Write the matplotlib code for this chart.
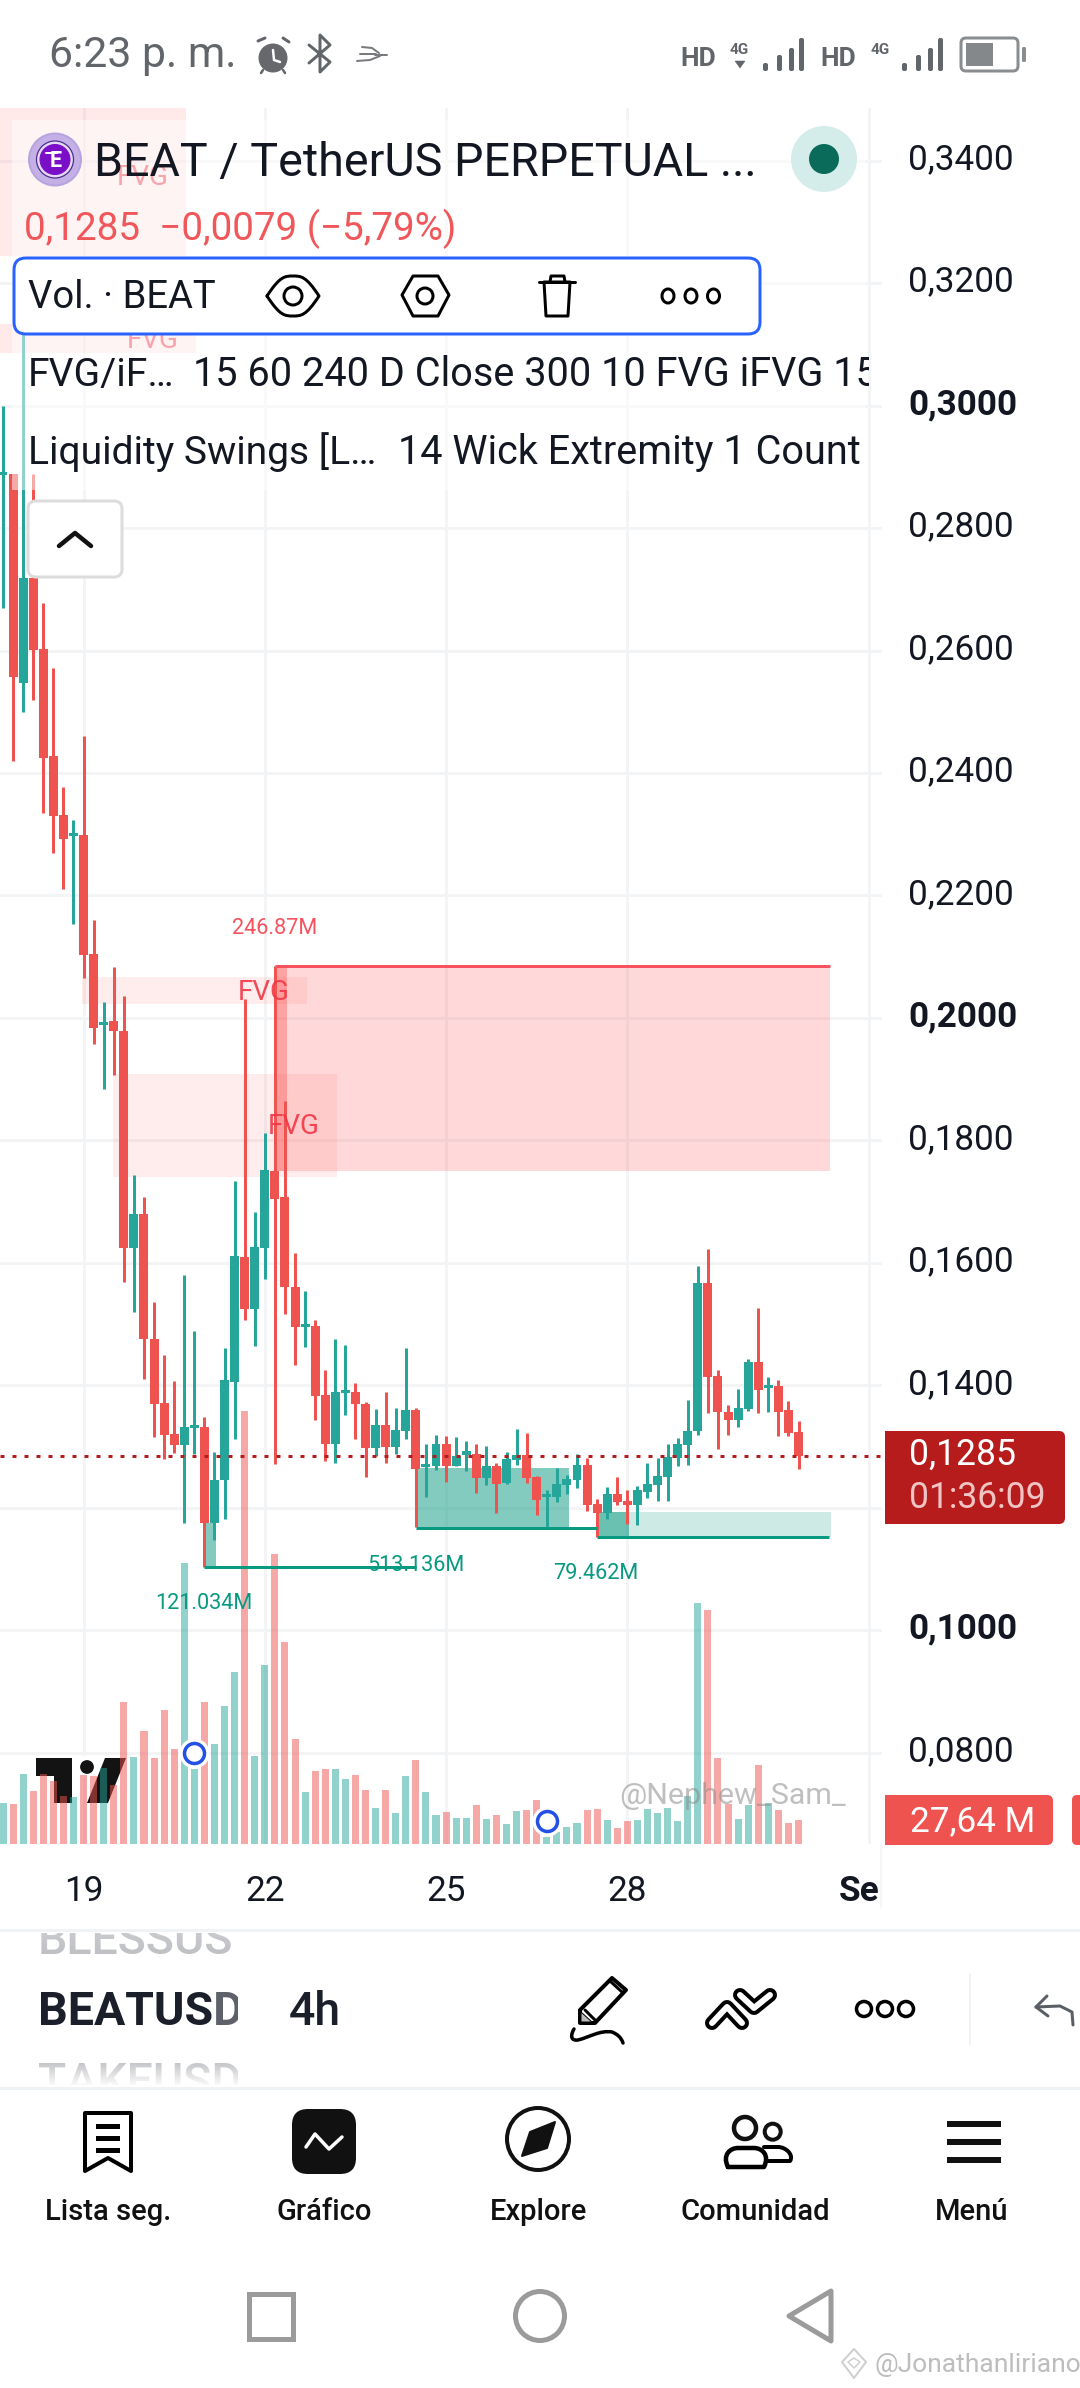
import numpy as np
import matplotlib
matplotlib.use('Agg')
import matplotlib.pyplot as plt
from matplotlib.patches import Rectangle, Circle, Ellipse, Polygon, FancyBboxPatch, PathPatch
from matplotlib.path import Path
from matplotlib.transforms import Affine2D

plt.rcParams['font.family'] = ['Roboto', 'DejaVu Sans']

# candles, 4h bars
opens = [.2887, .2888, .2547, .2718, .2602, .2428, .2331, .2297, .2299, .2104,
         .1988, .1995, .1979, .1625, .1680, .1476, .1371, .1321, .1303, .1331,
         .1332, .1176, .1245, .1406, .1610, .1524, .1625, .1750, .1708, .1561,
         .1495, .1497, .1385, .1305, .1388, .1389, .1370, .1297, .1335, .1299,
         .1326, .1360, .1266, .1268, .1304, .1268, .1287, .1288, .1249, .1268,
         .1241, .1278, .1286, .1250, .1218, .1218, .1237, .1246, .1270, .1206,
         .1192, .1223, .1211, .1205, .1226, .1237, .1250, .1282, .1303, .1326,
         .1567, .1415, .1357, .1344, .1362, .1438, .1395, .1399, .1360, .1324]
highs = [.2999, .2888, .3118, .2888, .2678, .2571, .2377, .2323, .2460, .2160,
         .2026, .2084, .2036, .1744, .1708, .1536, .1450, .1407, .1580, .1489,
         .1349, .1291, .1461, .1734, .2031, .1683, .1812, .2085, .1864, .1616,
         .1554, .1507, .1425, .1476, .1466, .1404, .1373, .1362, .1389, .1363,
         .1461, .1363, .1304, .1319, .1317, .1316, .1309, .1304, .1301, .1273,
         .1291, .1329, .1322, .1252, .1229, .1265, .1254, .1288, .1282, .1215,
         .1234, .1250, .1229, .1236, .1273, .1282, .1304, .1314, .1376, .1595,
         .1623, .1425, .1368, .1394, .1443, .1526, .1414, .1409, .1375, .1342]
lows = [.2670, .2420, .2500, .2520, .2335, .2270, .2211, .2153, .2065, .1958,
        .1884, .1907, .1569, .1519, .1411, .1315, .1280, .1289, .1176, .1288,
        .1104, .1148, .1181, .1312, .1507, .1465, .1573, .1271, .1516, .1434,
        .1463, .1343, .1276, .1273, .1352, .1313, .1251, .1284, .1273, .1288,
        .1312, .1168, .1217, .1261, .1242, .1268, .1260, .1224, .1237, .1192,
        .1239, .1270, .1241, .1189, .1168, .1210, .1223, .1232, .1195, .1153,
        .1182, .1205, .1174, .1172, .1216, .1211, .1211, .1268, .1270, .1319,
        .1355, .1296, .1319, .1332, .1358, .1355, .1357, .1317, .1317, .1264]
closes = [.2889, .2557, .2718, .2601, .2425, .2329, .2293, .2299, .2102, .1984,
          .1990, .1978, .1624, .1680, .1475, .1370, .1319, .1303, .1332, .1333,
          .1176, .1246, .1409, .1611, .1524, .1626, .1752, .1705, .1560, .1496,
          .1497, .1383, .1305, .1389, .1390, .1370, .1297, .1335, .1299, .1327,
          .1360, .1264, .1268, .1304, .1268, .1285, .1289, .1249, .1268, .1239,
          .1280, .1286, .1249, .1213, .1220, .1239, .1247, .1270, .1205, .1192,
          .1223, .1210, .1205, .1229, .1239, .1252, .1283, .1304, .1326, .1567,
          .1414, .1357, .1344, .1363, .1438, .1393, .1397, .1357, .1322, .1285]
# volume in millions
volumes = [47.2, 46.1, 80.6, 61.1, 80.6, 72.6, 55.3, 54.1, 79.5, 78.3,
           87.6, 68.0, 163.6, 100.2, 130.2, 99.1, 154.4, 109.4, 323.7, 86.4,
           163.6, 115.2, 159.0, 198.1, 498.8, 101.4, 206.2, 334.1, 232.7, 121.0,
           59.9, 84.1, 86.4, 86.4, 74.9, 79.5, 62.2, 41.5, 62.2, 35.7,
           78.3, 96.8, 59.9, 33.4, 36.9, 30.0, 30.0, 44.9, 28.8, 33.4,
           23.0, 38.0, 39.2, 50.7, 8.4, 14.0, 19.6, 24.2, 39.2, 40.3,
           27.6, 18.4, 26.5, 27.6, 40.3, 35.7, 41.5, 26.5, 55.3, 277.6,
           269.6, 99.1, 46.1, 28.8, 44.9, 91.0, 47.2, 39.2, 24.2, 27.64]

price_ticks = [.34, .32, .30, .28, .26, .24, .22, .20, .18, .16, .14, .12, .10, .08]
bold_prices = [.30, .20, .10]
day_bars = [8, 26, 44, 62, 86]
day_labels = ['19', '22', '25', '28', 'Sep']
last_price = 0.1285

# zones: first bar, last bar, top, bottom, opacity
fvg_zones = [(27.0, 82.1, .2085, .1750, .22), (27.0, 28.2, .2085, .1750, .4),
             (7.85, 30.2, .2067, .2023, .11), (10.9, 33.2, .1909, .1740, .11),
             (-0.3, 18.2, .3486, .3244, .12), (-0.3, 19.2, .3133, .3086, .12)]
swing_zones = [(20.1, 21.2, .1176, .1104, .5), (41.1, 56.2, .1265, .1167, .5),
               (59.0, 82.2, .1193, .1153, .2), (59.0, 62.2, .1193, .1153, .5)]
swing_lines = [(20.0, 41.0, .1104), (41.0, 59.0, .1167), (59.0, 82.0, .1153)]
fvg_lines = [(27.0, 82.1, .2085)]
fvg_labels = [(25.9, .2042), (28.9, .1823), (13.9, .3373), (14.9, .3107)]
vol_labels = [('246.87M', 27.0, .2146, '#f7525f'), ('121.034M', 19.9, .1043, '#089981'),
              ('513.136M', 41.0, .1105, '#089981'), ('79.462M', 58.9, .1092, '#089981')]
marker_bars = [19, 54]
marker_prices = [.0799, .0688]

GREEN, RED = '#26a69a', '#ef5350'
TXT = '#131722'
W, H = 1080, 2388
LW = 72 / 100  # one pixel in points

fig = plt.figure(figsize=(W / 100, H / 100), dpi=100, facecolor='white')
left, right, top, bottom = 0, 882, 108, 1844
rect = [left / W, 1 - bottom / H, (right - left) / W, (bottom - top) / H]

# bottom axes: grid and tick labels, then volume, then candles
ax = fig.add_axes(rect)
vol_ax = ax.twinx()
price_ax = ax.twinx()
x0 = (left - 3) / 10.07
x1 = (right - 3) / 10.07
for a in (ax, vol_ax, price_ax):
    a.set_xlim(x0, x1)
    for s in a.spines.values():
        s.set_visible(False)
ax.set_ylim(.0651, .3486)
price_ax.set_ylim(.0651, .3486)
vol_ax.set_ylim(0, 2000)
vol_ax.set_yticks([])
price_ax.set_yticks([])

ax.set_yticks(price_ticks)
ax.set_yticklabels([f'{p:.4f}'.replace('.', ',') for p in price_ticks], fontsize=25.3, color=TXT)
ax.yaxis.tick_right()
ax.set_xticks(day_bars)
ax.set_xticklabels(day_labels, fontsize=25.3, color=TXT)
ax.tick_params(axis='both', length=0)
ax.tick_params(axis='y', pad=19)
ax.tick_params(axis='x', pad=22)
for lab, p in zip(ax.get_yticklabels(), price_ticks):
    lab.set_transform(lab.get_transform() + Affine2D().translate(0, 4.5))
    if p in bold_prices:
        lab.set_fontweight('bold')
ax.get_xticklabels()[-1].set_fontweight('bold')
ax.grid(True, color='#f3f4f6', lw=3 * LW)
ax.set_axisbelow(True)

idx = np.arange(len(opens))
o, h, l, c = map(np.array, (opens, highs, lows, closes))
colors = [GREEN if b >= a else RED for a, b in zip(o, c)]

vol_ax.bar(idx, volumes, width=0.7, color=colors, alpha=0.5, lw=0)

for z in fvg_zones:
    price_ax.add_patch(Rectangle((z[0], z[3]), z[1] - z[0], z[2] - z[3], color='#ff5252', alpha=z[4], lw=0, zorder=1))
for z in swing_zones:
    price_ax.add_patch(Rectangle((z[0], z[3]), z[1] - z[0], z[2] - z[3], color='#089981', alpha=z[4], lw=0, zorder=1))

body = np.maximum(np.abs(c - o), 0.0005)
price_ax.vlines(idx, l, h, colors=colors, lw=3 * LW, zorder=3)
price_ax.bar(idx, body, bottom=np.minimum(o, c), width=0.89, color=colors, lw=0, zorder=3)

for a, b, p in fvg_lines:
    price_ax.plot([a, b], [p, p], color='#f7525f', lw=3 * LW, zorder=4, solid_capstyle='butt')
for a, b, p in swing_lines:
    price_ax.plot([a, b], [p, p], color='#089981', lw=3 * LW, zorder=4, solid_capstyle='butt')

price_ax.axhline(last_price, color='#b71c1c', lw=3 * LW, ls=(0, (1.33, 2.67)), zorder=5)

for x, p in fvg_labels:
    price_ax.text(x, p, 'FVG', color='#f23645', fontsize=20, ha='center', va='center', alpha=0.9, zorder=6)
for s, x, p, col in vol_labels:
    price_ax.text(x, p, s, color=col, fontsize=15.6, ha='center', va='center', zorder=6)

price_ax.plot(marker_bars, marker_prices, ls='', marker='o', ms=22 * LW, mfc='white', mec='white', mew=8 * LW, zorder=7)
price_ax.plot(marker_bars, marker_prices, ls='', marker='o', ms=20 * LW, mfc='white', mec='#2350e6', mew=3.5 * LW, zorder=8)

# chrome in pixel coordinates
ui = fig.add_axes([0, 0, 1, 1], zorder=10)
ui.set_xlim(0, W)
ui.set_ylim(H, 0)
ui.axis('off')
ui.patch.set_alpha(0)


def text(x, y, s, size, color=TXT, weight='normal', ha='left', clip=None, alpha=None, z=20):
    t = ui.text(x, y, s, fontsize=size, color=color, fontweight=weight, ha=ha, va='baseline', alpha=alpha, zorder=z)
    if clip:
        t.set_clip_on(True)
        t.set_clip_path(Rectangle((clip[0], clip[1]), clip[2] - clip[0], clip[3] - clip[1], transform=ui.transData))
    return t


def line(pts, color='black', lw=3, z=20):
    xs, ys = zip(*pts)
    ui.plot(xs, ys, color=color, lw=lw * LW, zorder=z, solid_capstyle='round', solid_joinstyle='round')


def rect_px(x0_, y0_, x1_, y1_, color, z=15):
    ui.add_patch(Rectangle((x0_, y0_), x1_ - x0_, y1_ - y0_, facecolor=color, lw=0, zorder=z))


def rounded(x0_, y0_, x1_, y1_, r, fc='white', ec='none', lw=0, z=15):
    ui.add_patch(FancyBboxPatch((x0_ + r, y0_ + r), x1_ - x0_ - 2 * r, y1_ - y0_ - 2 * r, boxstyle=f'round,pad={r},rounding_size={r}',
                                fc=fc, ec=ec, lw=lw * LW, zorder=z))


def ring(x, y, r, color='black', lw=3, z=20, fc='none'):
    ui.add_patch(Circle((x, y), r, fc=fc, ec=color, lw=lw * LW, zorder=z))


def poly(pts, fc='none', ec='black', lw=3, z=20):
    ui.add_patch(Polygon(pts, closed=True, fc=fc, ec=ec, lw=lw * LW, zorder=z, joinstyle='round'))


def curve(verts, fc='none', ec='black', lw=3, z=20):
    # first point is a move, the rest come in threes as cubic segments
    codes = [Path.MOVETO] + [Path.CURVE4] * (len(verts) - 1)
    ui.add_patch(PathPatch(Path(verts, codes), fc=fc, ec=ec, lw=lw * LW, zorder=z, capstyle='round', joinstyle='round'))


def fade(x0_, y0_, x1_, y1_, a0, a1, z=25):
    img = np.ones((32, 1, 4))
    img[:, 0, 3] = np.linspace(a0, a1, 32)
    ui.imshow(img, extent=(x0_, x1_, y1_, y0_), aspect='auto', zorder=z, interpolation='bilinear')
    ui.set_xlim(0, W)
    ui.set_ylim(H, 0)


# TradingView logo sits under the volume bars
logo_col = '#131313'
tr = ui.transData
for pts in ([(36, 1758), (72, 1758), (72, 1803), (54, 1803), (54, 1776), (36, 1776)],
            [(105, 1758), (126, 1758), (108, 1803), (87, 1803)]):
    ax.add_patch(Polygon(pts, closed=True, fc=logo_col, ec='none', transform=tr, zorder=3, clip_on=False))
ax.add_patch(Circle((87, 1767), 9, fc=logo_col, ec='white', lw=3, transform=tr, zorder=3, clip_on=False))

# translucent sheet behind the legend
price_ax.add_patch(Rectangle((12, 120), 853, 370, transform=tr, fc='white', alpha=0.5, lw=0, zorder=9))

# status bar
GREY = '#62666b'
text(49, 67, '6:23 p. m.', 30.8, GREY)
ring(273, 58, 14, '#66686c', 1, fc='#66686c')
line([(273, 50), (274, 60), (280, 62)], 'white', 2.5)
line([(258, 41), (265, 38)], GREY, 3)
line([(283, 38), (289, 42)], GREY, 3)
line([(263, 70), (261, 73)], GREY, 2.5)
line([(283, 70), (285, 73)], GREY, 2.5)
line([(309, 45), (330, 62), (320, 72), (320, 35), (330, 45), (309, 63)], GREY, 3)
line([(362, 47), (372, 48), (379, 53)], '#777a7e', 2)
line([(360, 54), (376, 54)], '#777a7e', 2)
line([(357, 61), (370, 60), (380, 56)], '#777a7e', 2)
line([(375, 55), (387, 55)], '#777a7e', 2)
text(680, 66, 'HD', 19, GREY, 'bold')
text(820, 66, 'HD', 19, GREY, 'bold')
text(730, 54, '4G', 11, GREY, 'bold')
text(871, 54, '4G', 11, GREY, 'bold')
poly([(735, 61), (745, 61), (740, 68)], GREY, GREY, 0.5)
for bars_x in ((763, 777, 789, 799), (902, 916, 928, 938)):
    for bx, by in zip(bars_x, (63, 55, 48, 38)):
        rounded(bx, by, bx + 5, 71, 2, GREY)
rounded(961, 38, 1018, 71, 5, 'none', '#8a8d90', 3)
rect_px(966, 43, 993, 66, '#85888b', 20)
rounded(1022, 47, 1026, 62, 1.5, '#8a8d90')

# legend
ring(55, 159.5, 26, '#b7a3de', 2, fc='#c4b0e6')
ring(55, 159.5, 18.5, '#4b2a8c', 1.2, fc='#e2daf3')
ring(55, 159.5, 15, '#7b0fc8', 1, fc='#7b0fc8')
text(56, 167, 'E', 15.5, 'white', 'bold', ha='center')
line([(46, 153), (57, 153)], 'white', 2)
text(94, 176, 'BEAT / TetherUS PERPETUAL ...', 33.6)
ui.add_patch(Circle((824, 159), 33, fc='#d5edea', ec='none', zorder=18))
ui.add_patch(Circle((824, 159), 15, fc='#0b6b5a', ec='none', zorder=19))
text(24, 240, '0,1285  \u22120,0079 (\u22125,79%)', 27.8, '#f0575a')
rounded(14, 258, 760, 334, 12, 'white', '#2962ff', 3)
text(28, 308, 'Vol. \u00b7 BEAT', 27.5)
curve([(267, 296), (280, 276), (285, 276), (293, 276), (301, 276), (306, 276), (319, 296),
       (306, 316), (301, 316), (293, 316), (285, 316), (280, 316), (267, 296)])
ring(293, 296, 9, 'black', 3)
poly([(402, 295), (413, 276), (438, 276), (449, 295), (438, 316), (413, 316)])
ring(425, 296, 8, 'black', 3)
line([(539, 282), (575, 282)])
poly([(544, 282), (570, 282), (568, 316), (546, 316)])
line([(550, 282), (551, 276), (564, 276), (565, 282)])
for dx in (668, 691, 713.5):
    ui.add_patch(Ellipse((dx, 296), 12, 14, fc='none', ec='black', lw=3 * LW, zorder=20))
text(28, 386, 'FVG/iF\u2026', 28.1)
text(193, 386, '15 60 240 D Close 300 10 FVG iFVG 15', 28.5, clip=(0, 340, 869, 400))
text(28, 464, 'Liquidity Swings [L\u2026', 28.1)
text(398, 464, '14 Wick Extremity 1 Count', 28.5)
rounded(28, 501, 122, 577, 8, 'white', '#dcdcdc', 3)
line([(59, 546), (75, 533), (91, 546)], '#111111', 4.5)

# price tags
rounded(885, 1431, 1065, 1524, 6, '#b71c1c')
rect_px(885, 1431, 900, 1524, '#b71c1c', 16)
text(909, 1465, '0,1285', 25.6, 'white')
text(909, 1508, '01:36:09', 25.6, '#f0c4c4')
rounded(885, 1795, 1053, 1845, 6, RED)
rect_px(885, 1795, 900, 1845, RED, 16)
text(910, 1831, '27,64 M', 25.3, 'white')
rounded(1072, 1795, 1090, 1845, 5, RED)
text(619, 1804, '@Nephew_Sam_', 21.9, '#8b8b8b', alpha=0.55)

# hide end of the Sep label, separators
rect_px(879, 1846, 1080, 1925, 'white', 14)
line([(881, 1846), (881, 1908)], '#f3f4f6', 1.5)
rect_px(0, 1929, W, 1932, '#f0f3f5')
rect_px(0, 2087, W, 2090, '#f0f3f5')
rect_px(969, 1974, 971, 2045, '#f0f3f5')

# symbol row
text(38, 1954, 'BLESSUS', 33.5, '#2a2e39', 'medium', clip=(0, 1933, 238, 2000))
fade(30, 1933, 245, 1956, 0.75, 0.7)
text(38, 2025, 'BEATUSD', 33.5, '#1b1f2a', 'bold', clip=(0, 1975, 238, 2040))
fade(215, 1985, 240, 2030, 0.3, 0.3)
text(289, 2025, '4h', 33.5, '#1b1f2a', 'medium')
text(38, 2096, 'TAKEUSD', 33.5, '#2a2e39', 'medium', clip=(0, 2050, 238, 2085))
fade(30, 2060, 245, 2087, 0.7, 1)
# pencil and shapes
poly([(580, 2010), (612, 1978), (626, 1990), (595, 2023), (580, 2023)], lw=4)
poly([(581, 2012), (592, 2022), (581, 2022)], '#bbbbbb', 'black', 1)
line([(585, 2010), (595, 2020)], lw=3)
line([(610, 1981), (622, 1992)], lw=3)
curve([(574, 2029), (570, 2036), (571, 2041), (578, 2040), (590, 2037), (600, 2030), (612, 2032),
       (617, 2034), (621, 2037), (623, 2043)], lw=3.5)
for pts in ([(712, 2023), (727, 2007), (742, 2023)], [(740, 1995), (754, 2008), (770, 1995)]):
    line(pts, 'black', 14)
    line(pts, 'white', 6)
for dx in (864, 885, 906):
    ui.add_patch(Ellipse((dx, 2009), 15, 15, fc='none', ec='black', lw=3.5 * LW, zorder=20))
line([(1047, 1996), (1036, 2007), (1048, 2016)], '#5a5f66', 3)
line([(1036, 2007), (1060, 2006), (1072, 2012), (1073, 2025)], '#5a5f66', 3)

# bottom nav
poly([(85, 2113), (131, 2113), (131, 2171), (108, 2158), (85, 2171)], lw=4)
for ly in (2126, 2138, 2150):
    rect_px(96, ly - 2.5, 120, ly + 2.5, 'black', 20)
rounded(292, 2109, 356, 2174, 16, '#111111')
line([(306, 2147), (315, 2134), (329, 2149), (342, 2137)], 'white', 3.5)
ring(538, 2139, 31, '#111111', 4)
poly([(555, 2122), (547, 2148), (522, 2156), (530, 2132)], '#111111', '#111111', 2)
ring(745, 2128, 11, '#111111', 4.5)
ring(772.7, 2131.7, 8, '#111111', 4)
curve([(764, 2147), (772, 2147), (775, 2147), (778, 2147), (786, 2147), (794, 2155), (790, 2161),
       (783, 2161), (775, 2161), (768, 2161)], lw=4)
curve([(728, 2167), (722, 2155), (730, 2148), (738, 2148), (744, 2148), (748, 2148), (754, 2148),
       (762, 2148), (770, 2155), (764, 2167), (752, 2167), (740, 2167), (728, 2167)], lw=4.5, fc='white', z=21)
for ly in (2124, 2142, 2160):
    rect_px(947, ly - 3, 1001, ly + 3, '#111111', 20)
for x_, s in zip((108, 324, 539, 755, 972), ('Lista seg.', 'Gr\u00e1fico', 'Explore', 'Comunidad', 'Men\u00fa')):
    text(x_, 2220, s, 21, '#111111', 'medium', ha='center')

# android nav
NAV = '#9b9b9b'
ui.add_patch(Rectangle((249, 2294), 44, 45, fc='none', ec=NAV, lw=5 * LW, zorder=20))
ring(540, 2316, 24.5, NAV, 5)
poly([(831, 2291), (789, 2316), (831, 2341)], 'none', NAV, 5)
text(875, 2372, '@Jonathanliriano', 19, '#bdbdbd')
poly([(854, 2349), (866, 2362), (854, 2378), (842, 2362)], 'none', '#cfcfcf', 2)
poly([(854, 2358), (860, 2362), (854, 2368), (848, 2362)], 'none', '#cfcfcf', 1.5)

fig.savefig('out.png', dpi=100)
